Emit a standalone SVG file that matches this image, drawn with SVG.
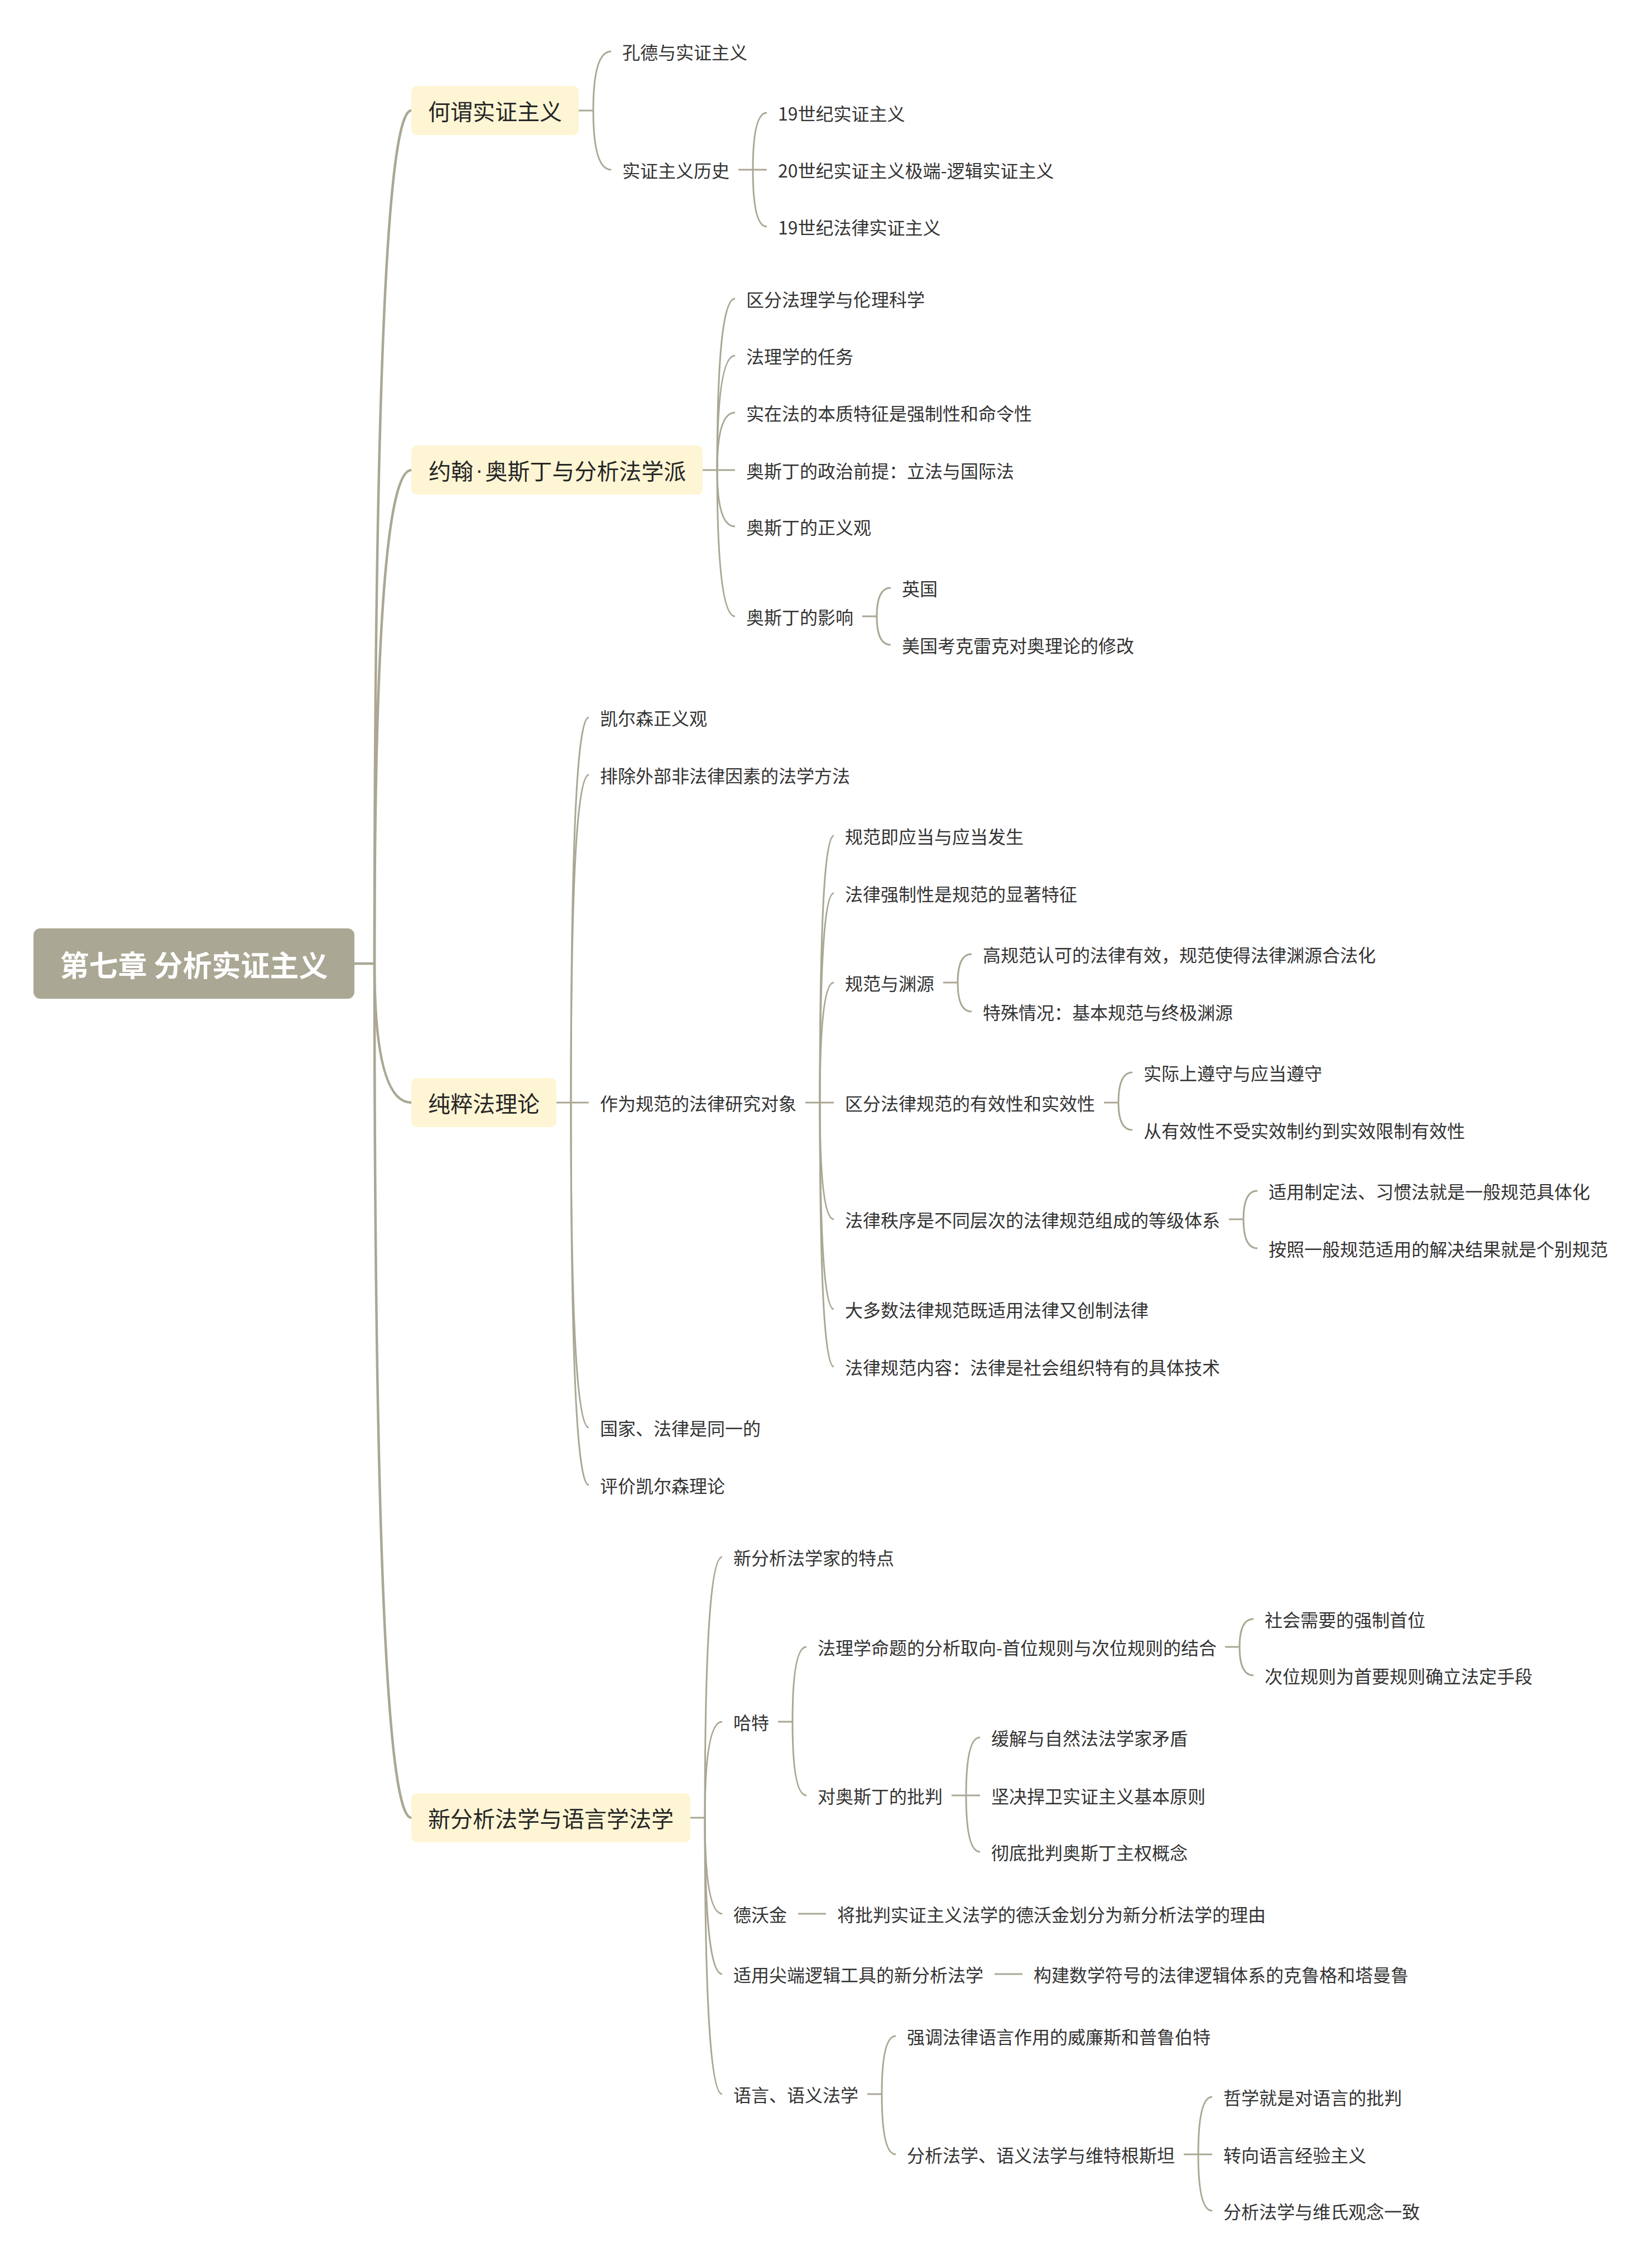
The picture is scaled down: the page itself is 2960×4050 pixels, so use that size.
<svg xmlns="http://www.w3.org/2000/svg" width="2960" height="4050" viewBox="0 0 2960 4050">
<style>
.bg{fill:#ffffff}
.root rect{fill:#aaa794}
.root text{fill:#ffffff;font-family:"Noto Sans CJK SC",sans-serif;font-size:52px;font-weight:bold;text-anchor:middle;dominant-baseline:central}
.main rect{fill:#fef5d4}
.main text{fill:#262626;font-family:"Noto Sans CJK SC",sans-serif;font-size:40px;text-anchor:middle;dominant-baseline:central}
.sub text, text.sub{fill:#333333;font-family:"Noto Sans CJK SC",sans-serif;font-size:32px;dominant-baseline:central}
.trunk path{fill:none;stroke:#aaa794;stroke-width:4.5;stroke-linecap:round}
.br path{fill:none;stroke:#aaa794;stroke-width:3;stroke-linecap:butt}
</style>
<rect class="bg" x="0" y="0" width="2960" height="4050"/>

<g id="connectors">
  <g class="trunk">
    <path d="M635 1726 H671"/>
    <path d="M671 1726 Q671 198 737 198"/>
    <path d="M671 1726 Q671 842 737 842"/>
    <path d="M671 1726 Q671 1975 737 1975"/>
    <path d="M671 1726 Q671 3256 737 3256"/>
  </g>
  <g class="br">
    <path d="M1037 198 H1063"/>
    <path d="M1063 198 Q1063 92 1095 92"/>
    <path d="M1063 198 Q1063 304 1095 304"/>
    <path d="M1323 304 H1349"/>
    <path d="M1349 304 Q1349 202 1374 202"/>
    <path d="M1349 304 H1374"/>
    <path d="M1349 304 Q1349 406 1374 406"/>
    <path d="M1259 842 H1285"/>
    <path d="M1285 842 Q1285 535 1317 535"/>
    <path d="M1285 842 Q1285 637 1317 637"/>
    <path d="M1285 842 Q1285 739 1317 739"/>
    <path d="M1285 842 H1317"/>
    <path d="M1285 842 Q1285 943 1317 943"/>
    <path d="M1285 842 Q1285 1104 1317 1104"/>
    <path d="M1545 1104 H1571"/>
    <path d="M1571 1104 Q1571 1053 1596 1053"/>
    <path d="M1571 1104 Q1571 1155 1596 1155"/>
    <path d="M997 1975 H1023"/>
    <path d="M1023 1975 Q1023 1285 1055 1285"/>
    <path d="M1023 1975 Q1023 1388 1055 1388"/>
    <path d="M1023 1975 H1055"/>
    <path d="M1023 1975 Q1023 2557 1055 2557"/>
    <path d="M1023 1975 Q1023 2660 1055 2660"/>
    <path d="M1443 1975 H1469"/>
    <path d="M1469 1975 Q1469 1497 1494 1497"/>
    <path d="M1469 1975 Q1469 1600 1494 1600"/>
    <path d="M1469 1975 Q1469 1760 1494 1760"/>
    <path d="M1469 1975 H1494"/>
    <path d="M1469 1975 Q1469 2184 1494 2184"/>
    <path d="M1469 1975 Q1469 2345 1494 2345"/>
    <path d="M1469 1975 Q1469 2448 1494 2448"/>
    <path d="M1690 1760 H1716"/>
    <path d="M1716 1760 Q1716 1709 1741 1709"/>
    <path d="M1716 1760 Q1716 1812 1741 1812"/>
    <path d="M1978 1975 H2004"/>
    <path d="M2004 1975 Q2004 1921 2029 1921"/>
    <path d="M2004 1975 Q2004 2024 2029 2024"/>
    <path d="M2202 2184 H2228"/>
    <path d="M2228 2184 Q2228 2133 2253 2133"/>
    <path d="M2228 2184 Q2228 2236 2253 2236"/>
    <path d="M1237 3256 H1263"/>
    <path d="M1263 3256 Q1263 2789 1294 2789"/>
    <path d="M1263 3256 Q1263 3084 1294 3084"/>
    <path d="M1263 3256 Q1263 3428 1294 3428"/>
    <path d="M1263 3256 Q1263 3536 1294 3536"/>
    <path d="M1263 3256 Q1263 3751 1294 3751"/>
    <path d="M1394 3084 H1420"/>
    <path d="M1420 3084 Q1420 2950 1445 2950"/>
    <path d="M1420 3084 Q1420 3216 1445 3216"/>
    <path d="M2195 2950 H2221"/>
    <path d="M2221 2950 Q2221 2900 2246 2900"/>
    <path d="M2221 2950 Q2221 3001 2246 3001"/>
    <path d="M1705 3216 H1731"/>
    <path d="M1731 3216 Q1731 3112 1756 3112"/>
    <path d="M1731 3216 H1756"/>
    <path d="M1731 3216 Q1731 3317 1756 3317"/>
    <path d="M1430 3428 H1480"/>
    <path d="M1782 3536 H1832"/>
    <path d="M1554 3751 H1580"/>
    <path d="M1580 3751 Q1580 3647 1605 3647"/>
    <path d="M1580 3751 Q1580 3859 1605 3859"/>
    <path d="M2121 3859 H2147"/>
    <path d="M2147 3859 Q2147 3756 2172 3756"/>
    <path d="M2147 3859 H2172"/>
    <path d="M2147 3859 Q2147 3960 2172 3960"/>
  </g>
</g>

<g id="root" class="root">
  <rect x="60" y="1663" width="575" height="126" rx="12"/>
  <text x="347.5" y="1726">第七章 分析实证主义</text>
</g>

<g id="t1" class="main"><rect x="737" y="154" width="300" height="88" rx="10"/><text x="887" y="198">何谓实证主义</text></g>
<g id="t2" class="main"><rect x="737" y="798" width="522" height="88" rx="10"/><text x="768" y="842" style="text-anchor:start">约翰<tspan dx="4" font-family="Liberation Sans">·</tspan><tspan dx="4">奥斯丁与分析法学派</tspan></text></g>
<g id="t3" class="main"><rect x="737" y="1931" width="260" height="88" rx="10"/><text x="867" y="1975">纯粹法理论</text></g>
<g id="t4" class="main"><rect x="737" y="3212" width="500" height="88" rx="10"/><text x="987" y="3256">新分析法学与语言学法学</text></g>

<g class="sub">
  <g id="n1a"><text x="1115" y="92">孔德与实证主义</text></g>
  <g id="n1b"><text x="1115" y="304">实证主义历史</text></g>
  <g id="n1b1"><text x="1394" y="202">19世纪实证主义</text></g>
  <g id="n1b2"><text x="1394" y="304">20世纪实证主义极端-逻辑实证主义</text></g>
  <g id="n1b3"><text x="1394" y="406">19世纪法律实证主义</text></g>

  <g id="n2a"><text x="1337" y="535">区分法理学与伦理科学</text></g>
  <g id="n2b"><text x="1337" y="637">法理学的任务</text></g>
  <g id="n2c"><text x="1337" y="739">实在法的本质特征是强制性和命令性</text></g>
  <g id="n2d"><text x="1337" y="842">奥斯丁的政治前提：立法与国际法</text></g>
  <g id="n2e"><text x="1337" y="943">奥斯丁的正义观</text></g>
  <g id="n2f"><text x="1337" y="1104">奥斯丁的影响</text></g>
  <g id="n2f1"><text x="1616" y="1053">英国</text></g>
  <g id="n2f2"><text x="1616" y="1155">美国考克雷克对奥理论的修改</text></g>

  <g id="n3a"><text x="1075" y="1285">凯尔森正义观</text></g>
  <g id="n3b"><text x="1075" y="1388">排除外部非法律因素的法学方法</text></g>
  <g id="n3c"><text x="1075" y="1975">作为规范的法律研究对象</text></g>
  <g id="n3c1"><text x="1514" y="1497">规范即应当与应当发生</text></g>
  <g id="n3c2"><text x="1514" y="1600">法律强制性是规范的显著特征</text></g>
  <g id="n3c3"><text x="1514" y="1760">规范与渊源</text></g>
  <g id="n3c3a"><text x="1761" y="1709">高规范认可的法律有效，规范使得法律渊源合法化</text></g>
  <g id="n3c3b"><text x="1761" y="1812">特殊情况：基本规范与终极渊源</text></g>
  <g id="n3c4"><text x="1514" y="1975">区分法律规范的有效性和实效性</text></g>
  <g id="n3c4a"><text x="2049" y="1921">实际上遵守与应当遵守</text></g>
  <g id="n3c4b"><text x="2049" y="2024">从有效性不受实效制约到实效限制有效性</text></g>
  <g id="n3c5"><text x="1514" y="2184">法律秩序是不同层次的法律规范组成的等级体系</text></g>
  <g id="n3c5a"><text x="2273" y="2133">适用制定法、习惯法就是一般规范具体化</text></g>
  <g id="n3c5b"><text x="2273" y="2236">按照一般规范适用的解决结果就是个别规范</text></g>
  <g id="n3c6"><text x="1514" y="2345">大多数法律规范既适用法律又创制法律</text></g>
  <g id="n3c7"><text x="1514" y="2448">法律规范内容：法律是社会组织特有的具体技术</text></g>
  <g id="n3d"><text x="1075" y="2557">国家、法律是同一的</text></g>
  <g id="n3e"><text x="1075" y="2660">评价凯尔森理论</text></g>

  <g id="n4a"><text x="1314" y="2789">新分析法学家的特点</text></g>
  <g id="n4b"><text x="1314" y="3084">哈特</text></g>
  <g id="n4b1"><text x="1465" y="2950">法理学命题的分析取向-首位规则与次位规则的结合</text></g>
  <g id="n4b1a"><text x="2266" y="2900">社会需要的强制首位</text></g>
  <g id="n4b1b"><text x="2266" y="3001">次位规则为首要规则确立法定手段</text></g>
  <g id="n4b2"><text x="1465" y="3216">对奥斯丁的批判</text></g>
  <g id="n4b2a"><text x="1776" y="3112">缓解与自然法法学家矛盾</text></g>
  <g id="n4b2b"><text x="1776" y="3216">坚决捍卫实证主义基本原则</text></g>
  <g id="n4b2c"><text x="1776" y="3317">彻底批判奥斯丁主权概念</text></g>
  <g id="n4c"><text x="1314" y="3428">德沃金</text></g>
  <g id="n4c1"><text x="1500" y="3428">将批判实证主义法学的德沃金划分为新分析法学的理由</text></g>
  <g id="n4d"><text x="1314" y="3536">适用尖端逻辑工具的新分析法学</text></g>
  <g id="n4d1"><text x="1852" y="3536">构建数学符号的法律逻辑体系的克鲁格和塔曼鲁</text></g>
  <g id="n4e"><text x="1314" y="3751">语言、语义法学</text></g>
  <g id="n4e1"><text x="1625" y="3647">强调法律语言作用的威廉斯和普鲁伯特</text></g>
  <g id="n4e2"><text x="1625" y="3859">分析法学、语义法学与维特根斯坦</text></g>
  <g id="n4e2a"><text x="2192" y="3756">哲学就是对语言的批判</text></g>
  <g id="n4e2b"><text x="2192" y="3859">转向语言经验主义</text></g>
  <g id="n4e2c"><text x="2192" y="3960">分析法学与维氏观念一致</text></g>
</g>
</svg>
